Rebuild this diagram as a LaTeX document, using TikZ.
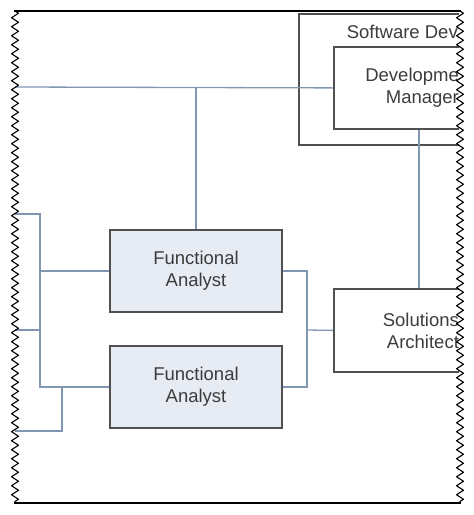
\documentclass[tikz,border=0pt]{standalone}
\usepackage{fontspec}
\setmainfont{Liberation Sans}
\usetikzlibrary{decorations.pathmorphing}
\definecolor{conn}{RGB}{128,150,178}
\definecolor{boxline}{RGB}{80,80,80}
\definecolor{fafill}{RGB}{231,235,243}
\definecolor{txt}{RGB}{60,60,60}
\tikzset{
  box/.style={draw=boxline, line width=1.8pt, inner sep=0pt, text=txt,
              font=\fontsize{18.5}{22}\selectfont},
  fabox/.style={box, fill=fafill, minimum width=172, minimum height=82, align=center},
  cutbox/.style={box, anchor=north west, align=right, inner xsep=4pt},
  lbl/.style={text=txt, inner sep=0pt, font=\fontsize{18.5}{22}\selectfont},
  link/.style={draw=conn, line width=1.3pt},
  edge/.style={line width=1.1pt, line join=round, decorate,
               decoration={zigzag, segment length=9, amplitude=3.5}}
}
\begin{document}
\begin{tikzpicture}[x=1pt, y=-1pt]
    \useasboundingbox (0,0) rectangle (474,515);
    \begin{scope}
        \clip (15,11) rectangle (459,503);
        % cut boxes on the right
        \node[box, anchor=north west, minimum width=164, minimum height=131] (swdev) at (298,13) {};
        \node[lbl, anchor=east] (swdev-t) at (458,32) {Software Dev};
        \node[cutbox, text width=121, minimum height=82] (devmgr) at (333,46) {Developme\\Manager};
        \node[cutbox, text width=121, minimum height=83] (solarch) at (333,288) {Solutions\\Architect};
        \node[fabox] (fa1) at (196,271) {Functional\\Analyst};
        \node[fabox] (fa2) at (196,387) {Functional\\Analyst};
        % free ends on the left
        \coordinate (l1) at (15,87);
        \coordinate (l2) at (15,214);
        \coordinate (l3) at (15,330);
        \coordinate (l4) at (15,431);
        \coordinate (vx) at (419,0);
        \draw[link] (l1) -- (devmgr.west);
        \draw[link] (fa1.north) -- (fa1.north |- devmgr.west);
        \draw[link] (devmgr.south -| vx) -- (solarch.north -| vx);
        \draw[link] (l2) -| (40,387) -- (fa2.west);
        \draw[link] (40,271) -- (fa1.west);
        \draw[link] (l3) -- (40,330);
        \draw[link] (l4) -| (62,387);
        \draw[link] (fa1.east) -| (307,387) -- (fa2.east);
        \draw[link] (307,330) -- (solarch.west);
    \end{scope}
    % torn frame
    \draw[line width=2pt] (14,11) -- (461,11);
    \draw[line width=2pt] (14,503) -- (461,503);
    \draw[edge] (15,11) -- (15,503);
    \draw[edge] (460,11) -- (460,503);
\end{tikzpicture}
\end{document}
